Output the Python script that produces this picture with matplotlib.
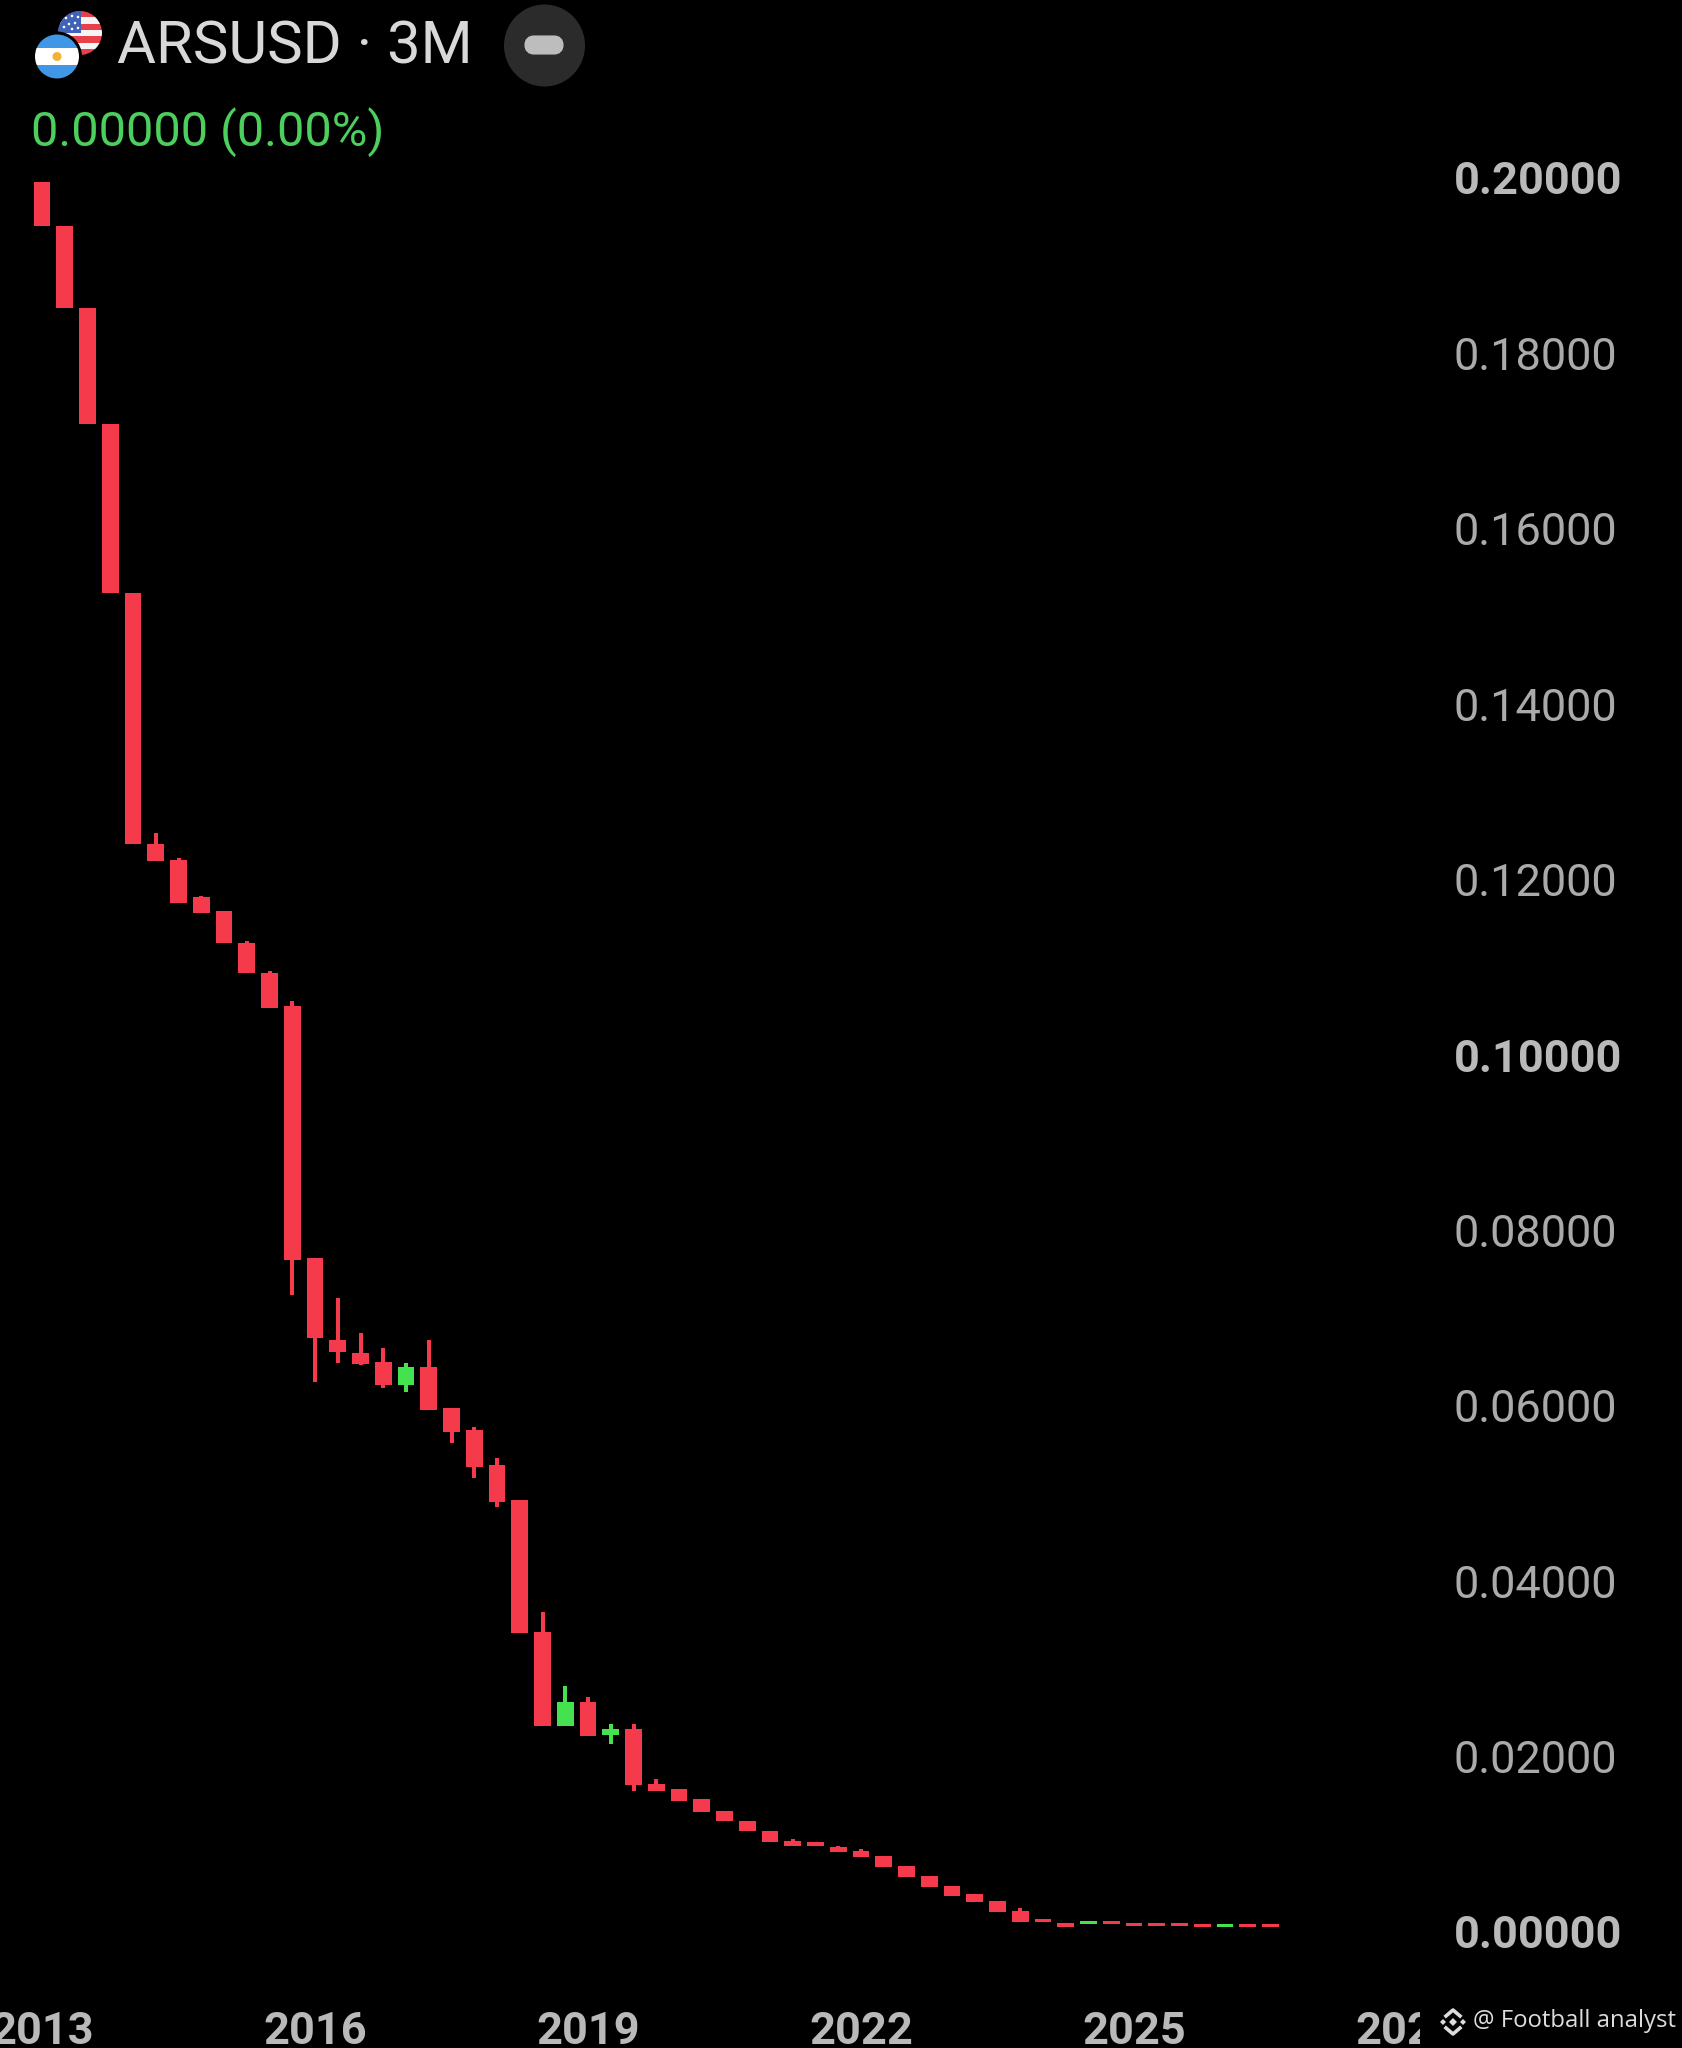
import matplotlib
matplotlib.use("Agg")
import matplotlib.pyplot as plt
from matplotlib.patches import Circle, Ellipse, FancyBboxPatch, Polygon, Rectangle
from matplotlib.transforms import Bbox

# quarterly candles, first one is Q1 2013
opens = [0.19960, 0.19453, 0.18518, 0.17195, 0.15268, 0.12406, 0.12229, 0.11798, 0.11642, 0.11281,
         0.10938, 0.10559, 0.07682, 0.06750, 0.06599, 0.06503, 0.06237, 0.06446, 0.05971, 0.05724,
         0.05325, 0.04926, 0.03417, 0.02352, 0.02619, 0.02246, 0.02315, 0.01688, 0.01631, 0.01517,
         0.01383, 0.01266, 0.01155, 0.01041, 0.01023, 0.00966, 0.00927, 0.00867, 0.00753, 0.00639,
         0.00525, 0.00430, 0.00353, 0.00239, 0.00145, 0.00106, 0.00091, 0.00129, 0.00106, 0.00106,
         0.00106, 0.00091, 0.00054, 0.00091, 0.00091]
closes = [0.19453, 0.18518, 0.17195, 0.15268, 0.12406, 0.12212, 0.11737, 0.11623, 0.11281, 0.10938,
          0.10539, 0.07662, 0.06770, 0.06617, 0.06477, 0.06237, 0.06446, 0.05952, 0.05705, 0.05306,
          0.04907, 0.03409, 0.02352, 0.02619, 0.02238, 0.02315, 0.01676, 0.01611, 0.01497, 0.01365,
          0.01266, 0.01152, 0.01023, 0.00984, 0.00984, 0.00909, 0.00852, 0.00738, 0.00624, 0.00510,
          0.00414, 0.00339, 0.00225, 0.00111, 0.00111, 0.00054, 0.00125, 0.00091, 0.00072, 0.00072,
          0.00072, 0.00054, 0.00088, 0.00054, 0.00054]
highs = [0.19960, 0.19453, 0.18518, 0.17195, 0.15268, 0.12535, 0.12250, 0.11813, 0.11642, 0.11300,
         0.10954, 0.10612, 0.07682, 0.07226, 0.06827, 0.06656, 0.06485, 0.06750, 0.05971, 0.05755,
         0.05401, 0.04926, 0.03645, 0.02808, 0.02676, 0.02372, 0.02372, 0.01745, 0.01631, 0.01517,
         0.01383, 0.01266, 0.01155, 0.01057, 0.01023, 0.00984, 0.00943, 0.00867, 0.00753, 0.00639,
         0.00525, 0.00430, 0.00353, 0.00274, 0.00145, 0.00106, 0.00125, 0.00129, 0.00106, 0.00106,
         0.00106, 0.00091, 0.00088, 0.00091, 0.00091]
lows = [0.19453, 0.18518, 0.17195, 0.15268, 0.12406, 0.12212, 0.11737, 0.11623, 0.11281, 0.10938,
        0.10539, 0.07263, 0.06268, 0.06485, 0.06465, 0.06200, 0.06161, 0.05952, 0.05572, 0.05173,
        0.04850, 0.03409, 0.02352, 0.02352, 0.02238, 0.02144, 0.01611, 0.01611, 0.01497, 0.01365,
        0.01266, 0.01152, 0.01023, 0.00984, 0.00984, 0.00909, 0.00852, 0.00738, 0.00624, 0.00510,
        0.00414, 0.00339, 0.00225, 0.00111, 0.00111, 0.00054, 0.00091, 0.00091, 0.00072, 0.00072,
        0.00072, 0.00054, 0.00054, 0.00054, 0.00054]

year_ticks = [0, 12, 24, 36, 48, 60]
year_labels = ["2013", "2016", "2019", "2022", "2025", "2028"]
price_ticks = [0.0, 0.02, 0.04, 0.06, 0.08, 0.10, 0.12, 0.14, 0.16, 0.18, 0.20]

RED = "#f43a4b"
GREEN = "#45e24f"
W, H = 1682, 2048

plt.rcParams["font.family"] = ["Roboto", "DejaVu Sans"]
fig = plt.figure(figsize=(W / 100, H / 100), dpi=100, facecolor="black")

# price pane, right edge of it is where the price scale starts
ax = fig.add_axes([0, 1 - 1985 / H, 1420 / W, 1985 / H], facecolor="black")
xs = list(range(len(opens)))
colors = [GREEN if c > o else RED for o, c in zip(opens, closes)]
ax.vlines(xs, lows, highs, colors=colors, linewidth=2.9)
ax.bar(xs, [abs(o - c) for o, c in zip(opens, closes)], bottom=[min(o, c) for o, c in zip(opens, closes)],
       width=0.74, color=colors, linewidth=0)
ax.set_xlim(-1.846, 60.57)
ax.set_ylim(-53 / 8770, 1932 / 8770)
for s in ax.spines.values():
    s.set_visible(False)

ax.set_xticks(year_ticks)
ax.set_xticklabels(year_labels, fontsize=32.5, fontweight="bold", color="#b9b9b9")
ax.tick_params(axis="x", length=0, pad=18.5)
# 2028 gets cut by the price scale
for lab in ax.get_xticklabels():
    lab.set_clip_box(Bbox([[0, 0], [1420, H]]))
    lab.set_clip_on(True)

ax.yaxis.tick_right()
ax.set_yticks(price_ticks)
ax.set_yticklabels(["%.5f" % p for p in price_ticks], fontsize=32.5, color="#aaaaaa")
ax.tick_params(axis="y", length=0, pad=24.3)
for p, lab in zip(price_ticks, ax.get_yticklabels()):
    if round(p * 100) % 10 == 0:
        lab.set_fontweight("bold")
        lab.set_color("#b9b9b9")

# overlay in pixel coordinates for the header and watermark
top = fig.add_axes([0, 0, 1, 1], facecolor="none")
top.set_xlim(0, W)
top.set_ylim(H, 0)
top.axis("off")

us = Circle((80, 33), 22, transform=top.transData)
for i in range(7):
    r = Rectangle((55, 11 + i * 6.3), 50, 6.3, facecolor="#e8404a" if i % 2 == 0 else "#f4f4f4", linewidth=0)
    top.add_patch(r)
    r.set_clip_path(us)
canton = Rectangle((55, 8), 26, 25, facecolor="#3f63b8", linewidth=0)
top.add_patch(canton)
canton.set_clip_path(us)
for sx, sy in [(66, 18), (72, 16), (78, 17), (69, 24), (75, 23), (64, 27), (72, 29), (78, 28)]:
    top.add_patch(Circle((sx, sy), 1.3, facecolor="white", linewidth=0))

top.add_patch(Circle((57, 56.5), 25, facecolor="black", linewidth=0))
ar = Circle((57, 56.5), 22, transform=top.transData)
for y0, col in [(34, "#3f97e6"), (48, "#ffffff"), (65, "#3f97e6")]:
    r = Rectangle((33, y0), 50, 17, facecolor=col, linewidth=0)
    top.add_patch(r)
    r.set_clip_path(ar)
top.add_patch(Circle((57, 56.5), 4.5, facecolor="#f2b233", linewidth=0))

top.text(117, 47.5, "ARSUSD · 3M", fontsize=43, color="#d8d8d8", va="center", ha="left")
top.text(31, 132.5, "0.00000 (0.00%)", fontsize=35, color="#4ccf5c", va="center", ha="left")

top.add_patch(Ellipse((544.5, 45.5), 81, 82, facecolor="#2b2b2b", linewidth=0))
top.add_patch(FancyBboxPatch((530, 41), 28, 8, boxstyle="round,pad=0,rounding_size=4",
                             mutation_aspect=1, facecolor="#bdbdbd", edgecolor="#bdbdbd", linewidth=8))

# binance style logo next to the watermark
lx, ly = 1453, 2022
for dx, dy, s in [(0, 0, 4), (-10, 0, 3), (10, 0, 3)]:
    top.add_patch(Polygon([(lx + dx - s, ly + dy), (lx + dx, ly + dy - s), (lx + dx + s, ly + dy), (lx + dx, ly + dy + s)],
                          facecolor="#dddddd", linewidth=0))
top.plot([lx - 7, lx, lx + 7], [ly - 6, ly - 12, ly - 6], color="#dddddd", linewidth=2.6)
top.plot([lx - 7, lx, lx + 7], [ly + 6, ly + 12, ly + 6], color="#dddddd", linewidth=2.6)
top.text(1473, 2021, "@ Football analyst", fontsize=17.2, color="#dddddd", va="center", ha="left",
         family=["Open Sans", "DejaVu Sans"])

fig.savefig("out.png", dpi=100, facecolor="black")
